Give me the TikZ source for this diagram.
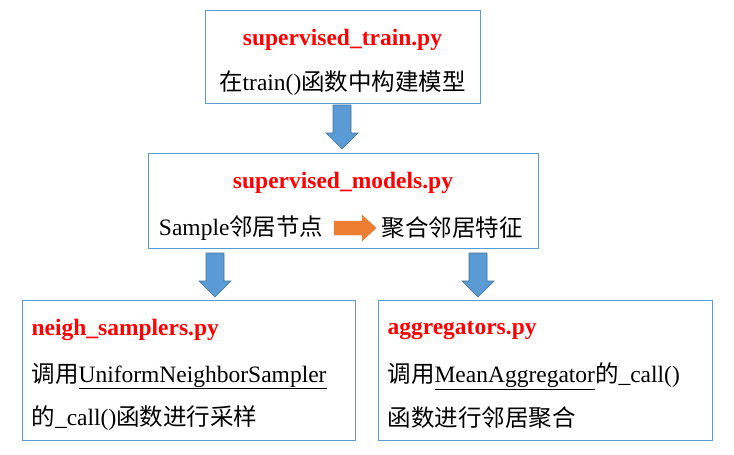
\documentclass[tikz,border=0pt]{standalone}
\usepackage{fontspec}
\setmainfont{Liberation Serif}
\newfontfamily\cjk{Noto Sans CJK SC}
\definecolor{boxline}{RGB}{91,155,213}
\definecolor{arrowblue}{RGB}{91,155,213}
\definecolor{arrowedge}{RGB}{65,113,156}
\definecolor{arroworange}{RGB}{237,125,49}
\tikzset{%
	box/.style={draw=boxline, line width=0.8pt, rectangle, inner sep=0pt},
	title/.style={text=red, font=\fontsize{23.5}{26}\selectfont\bfseries},
	line/.style={font=\fontsize{23.5}{26}\selectfont},
	down arrow/.style={draw=arrowedge, fill=arrowblue, line width=0.6pt},
	right arrow/.style={draw=arroworange, fill=arroworange},
}
% block arrow pointing down, top at #1
\newcommand{\blockdown}[1]{%
	\path[down arrow] (#1) ++(-9,0) -- ++(18,0) -- ++(0,28) -- ++(7,0) -- ++(-16,16)
		-- ++(-16,-16) -- ++(7,0) -- cycle;}
\begin{document}
\begin{tikzpicture}[x=1pt, y=-1pt]
			\useasboundingbox (0,0) rectangle (734,455);
			
			% boxes
			\node[box, minimum width=275pt, minimum height=93pt](train) at (342.5,56.5){};
			\node[box, minimum width=390pt, minimum height=95pt](models) at (343,200.5){};
			\node[box, minimum width=333pt, minimum height=140pt](samplers) at (188.5,370){};
			\node[box, minimum width=334pt, minimum height=140pt](aggr) at (545,370){};
			
			% box texts
			\node[title](t1) at (342.5,40){supervised\_train.py};
			\node[line](l1) at (342.5,83){{\cjk 在}train(){\cjk 函数中构建模型}};
			
			\node[title](t2) at (343,183){supervised\_models.py};
			\node[line, anchor=east](l2a) at (327,228){Sample{\cjk 邻居节点}};
			\node[line, anchor=west](l2b) at (378,228){\cjk 聚合邻居特征};
			\coordinate (or) at (334,228);
			\path[right arrow] (or) ++(0,-7) -- ++(28,0) -- ++(0,-6) -- ++(14,13) -- ++(-14,13)
				-- ++(0,-6) -- ++(-28,0) -- cycle;
			
			\node[title, anchor=west](t3) at (28,330){neigh\_samplers.py};
			\node[line, anchor=west](l3a) at (28,376){{\cjk 调用}\underline{UniformNeighborSampler}};
			\node[line, anchor=west](l3b) at (28,418){{\cjk 的}\_call(){\cjk 函数进行采样}};
			
			\node[title, anchor=west](t4) at (384,330){aggregators.py};
			\node[line, anchor=west](l4a) at (384,376){{\cjk 调用}\underline{MeanAggregator}{\cjk 的}\_call()};
			\node[line, anchor=west](l4b) at (384,418){\cjk 函数进行邻居聚合};
			
			% block arrows
			\coordinate (a1) at (342,105);
			\coordinate (a2) at (215,253);
			\coordinate (a3) at (478,253);
			\blockdown{a1}
			\blockdown{a2}
			\blockdown{a3}
\end{tikzpicture}
\end{document}
